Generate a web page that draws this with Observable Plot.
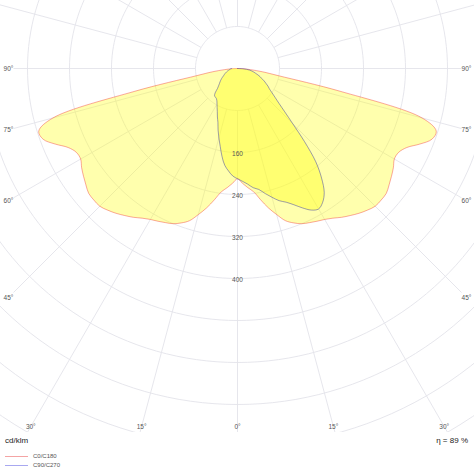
<!DOCTYPE html>
<html>
<head>
<meta charset="utf-8">
<script src="https://cdn.jsdelivr.net/npm/d3@7"></script>
<script src="https://cdn.jsdelivr.net/npm/@observablehq/plot@0.6"></script>
<style>
  html, body { margin: 0; padding: 0; background: #fff; }
  #wrap { width: 474px; font-family: "Liberation Sans", Arial, sans-serif; }
  #foot { position: relative; width: 474px; height: 42px; color: #222; }
  #foot .unit { position: absolute; left: 5px; top: 4px; font-size: 8px; }
  #foot .eta { position: absolute; right: 6px; top: 4px; font-size: 8px; }
  #foot .item { position: absolute; left: 5px; font-size: 6px; color: #555; display: flex; align-items: center; }
  #foot .sw { width: 23px; height: 0; border-top: 1px solid; margin-right: 5px; }
</style>
</head>
<body>
<div id="wrap"></div>
<script>
// ---- data (cd/klm) ----
const gammas = [0,2.5,5,7.5,10,12.5,15,17.5,20,22.5,25,27.5,30,32.5,35,37.5,40,42.5,45,47.5,50,52.5,55,57.5,60,62.5,65,67.5,70,72.5,75,77.5,80,82.5,85,87.5,90];
const c0   = [210,219,228,237,254,272,288,304,313,320,324,328,332,338,346,353,360,366,371,371,370,364,358,352,345,346,356,376,394,397,364,200,80,48,25,11,0];
const c180 = [210,219,228,237,254,272,288,304,313,320,324,328,332,338,346,353,360,366,371,371,370,364,358,352,345,346,356,376,394,397,364,200,80,48,25,11,0];
const c90  = [210,215,221,229,234,244,254,264,271,281,293,304,309,302,288,263,232,189,149,122,103,90,80,72,67,61,56,50,46,41,36,32,28,23,17,10,0];
const c270 = [210,205,196,186,170,152,137,123,109,100,91,84,78,73,70,69,68,63,54,49,45,42,39,36,33,30,28,26,24,22,20,18,17,15,14,13,11];
const seriesNames = ["C0/C180", "C90/C270"];
const seriesStroke = ["rgba(240,40,40,0.4)", "rgba(40,40,170,0.45)"];
const legendStroke = ["#f4a4a4", "#a8a8f0"];
const gridRadii = [80,160,240,320,400,480,560,640,720,800];
const radiusLabels = [160,240,320,400];
const gridAngles = d3.range(0, 360, 15);
const angleLabels = [0,15,30,45,60,75,90];
const unitLabel = "cd/klm";
const etaLabel = "η = 89 %";

// ---- geometry helpers (scale: 0.525 px per cd/klm, center at 237,68) ----
const W = 474, H = 432, k = 0.525;
const cx = 237, cy = 68;
const xDom = [-cx / k, (W - cx) / k];
const yDom = [-(H - cy) / k, cy / k];
const rad = a => a * Math.PI / 180;
const pt = (a, r) => ({x: r * Math.sin(rad(a)), y: -r * Math.cos(rad(a))});

function shape(leftVals, rightVals) {
  const pts = [];
  for (let i = gammas.length - 1; i >= 0; i--) pts.push(pt(-gammas[i], leftVals[i]));
  for (let i = 1; i < gammas.length; i++) pts.push(pt(gammas[i], rightVals[i]));
  return pts;
}
const wide = shape(c180, c0);
const narrow = shape(c270, c90);

// grid circles
const circ = [];
for (const r of gridRadii) for (let a = 0; a <= 360; a += 2) circ.push({...pt(a, r), r});

// radial lines
const sideLimit = (cx - 13) / k;
const rays = gridAngles.map(a => {
  const s = Math.abs(Math.sin(rad(a))), c = Math.cos(rad(a));
  let t = 1200;
  if (c >= -1e-9 && s > 1e-9) t = Math.min(t, sideLimit / s);
  const p0 = pt(a, 80), p1 = pt(a, t);
  return {x1: p0.x, y1: p0.y, x2: p1.x, y2: p1.y};
});

// angle labels on the frame
const lblSide = 229 / k, lblBottom = (426 - cy) / k;
const angLbl = [];
for (const a of angleLabels) {
  for (const sgn of (a === 0 ? [1] : [-1, 1])) {
    const s = Math.sin(rad(a)), c = Math.cos(rad(a));
    const t = Math.min(s > 1e-9 ? lblSide / s : Infinity, c > 1e-9 ? lblBottom / c : Infinity);
    const p = pt(sgn * a, t);
    angLbl.push({x: p.x, y: p.y, text: a + "°"});
  }
}
const radLbl = radiusLabels.map(v => ({x: 0, y: -v, text: String(v)}));

const gridColor = "#e3e3ea";
const chart = Plot.plot({
  width: W, height: H, margin: 0,
  x: {domain: xDom, axis: null},
  y: {domain: yDom, axis: null},
  style: {fontFamily: "'Liberation Sans', Arial, sans-serif", background: "#fff"},
  marks: [
    Plot.line(circ, {x: "x", y: "y", z: "r", stroke: gridColor, strokeWidth: 0.9, clip: true}),
    Plot.link(rays, {x1: "x1", y1: "y1", x2: "x2", y2: "y2", stroke: gridColor, strokeWidth: 0.9, clip: true}),
    Plot.line(wide, {x: "x", y: "y", fill: "#ffff10", fillOpacity: 0.34, stroke: seriesStroke[0], strokeWidth: 1, curve: "catmull-rom"}),
    Plot.line(narrow, {x: "x", y: "y", fill: "#ffff10", fillOpacity: 0.38, stroke: seriesStroke[1], strokeWidth: 1, curve: "catmull-rom"}),
    Plot.text(radLbl, {x: "x", y: "y", text: "text", fontSize: 6.5, fill: "#555", dy: 1}),
    Plot.text(angLbl, {x: "x", y: "y", text: "text", fontSize: 6.5, fill: "#555"})
  ]
});
const wrap = document.getElementById("wrap");
wrap.appendChild(chart);

const foot = document.createElement("div");
foot.id = "foot";
foot.innerHTML = `<div class="unit">${unitLabel}</div><div class="eta">${etaLabel}</div>` +
  seriesNames.map((n, i) => `<div class="item" style="top:${21 + i * 9}px"><div class="sw" style="border-color:${legendStroke[i]}"></div>${n}</div>`).join("");
wrap.appendChild(foot);
</script>
</body>
</html>
